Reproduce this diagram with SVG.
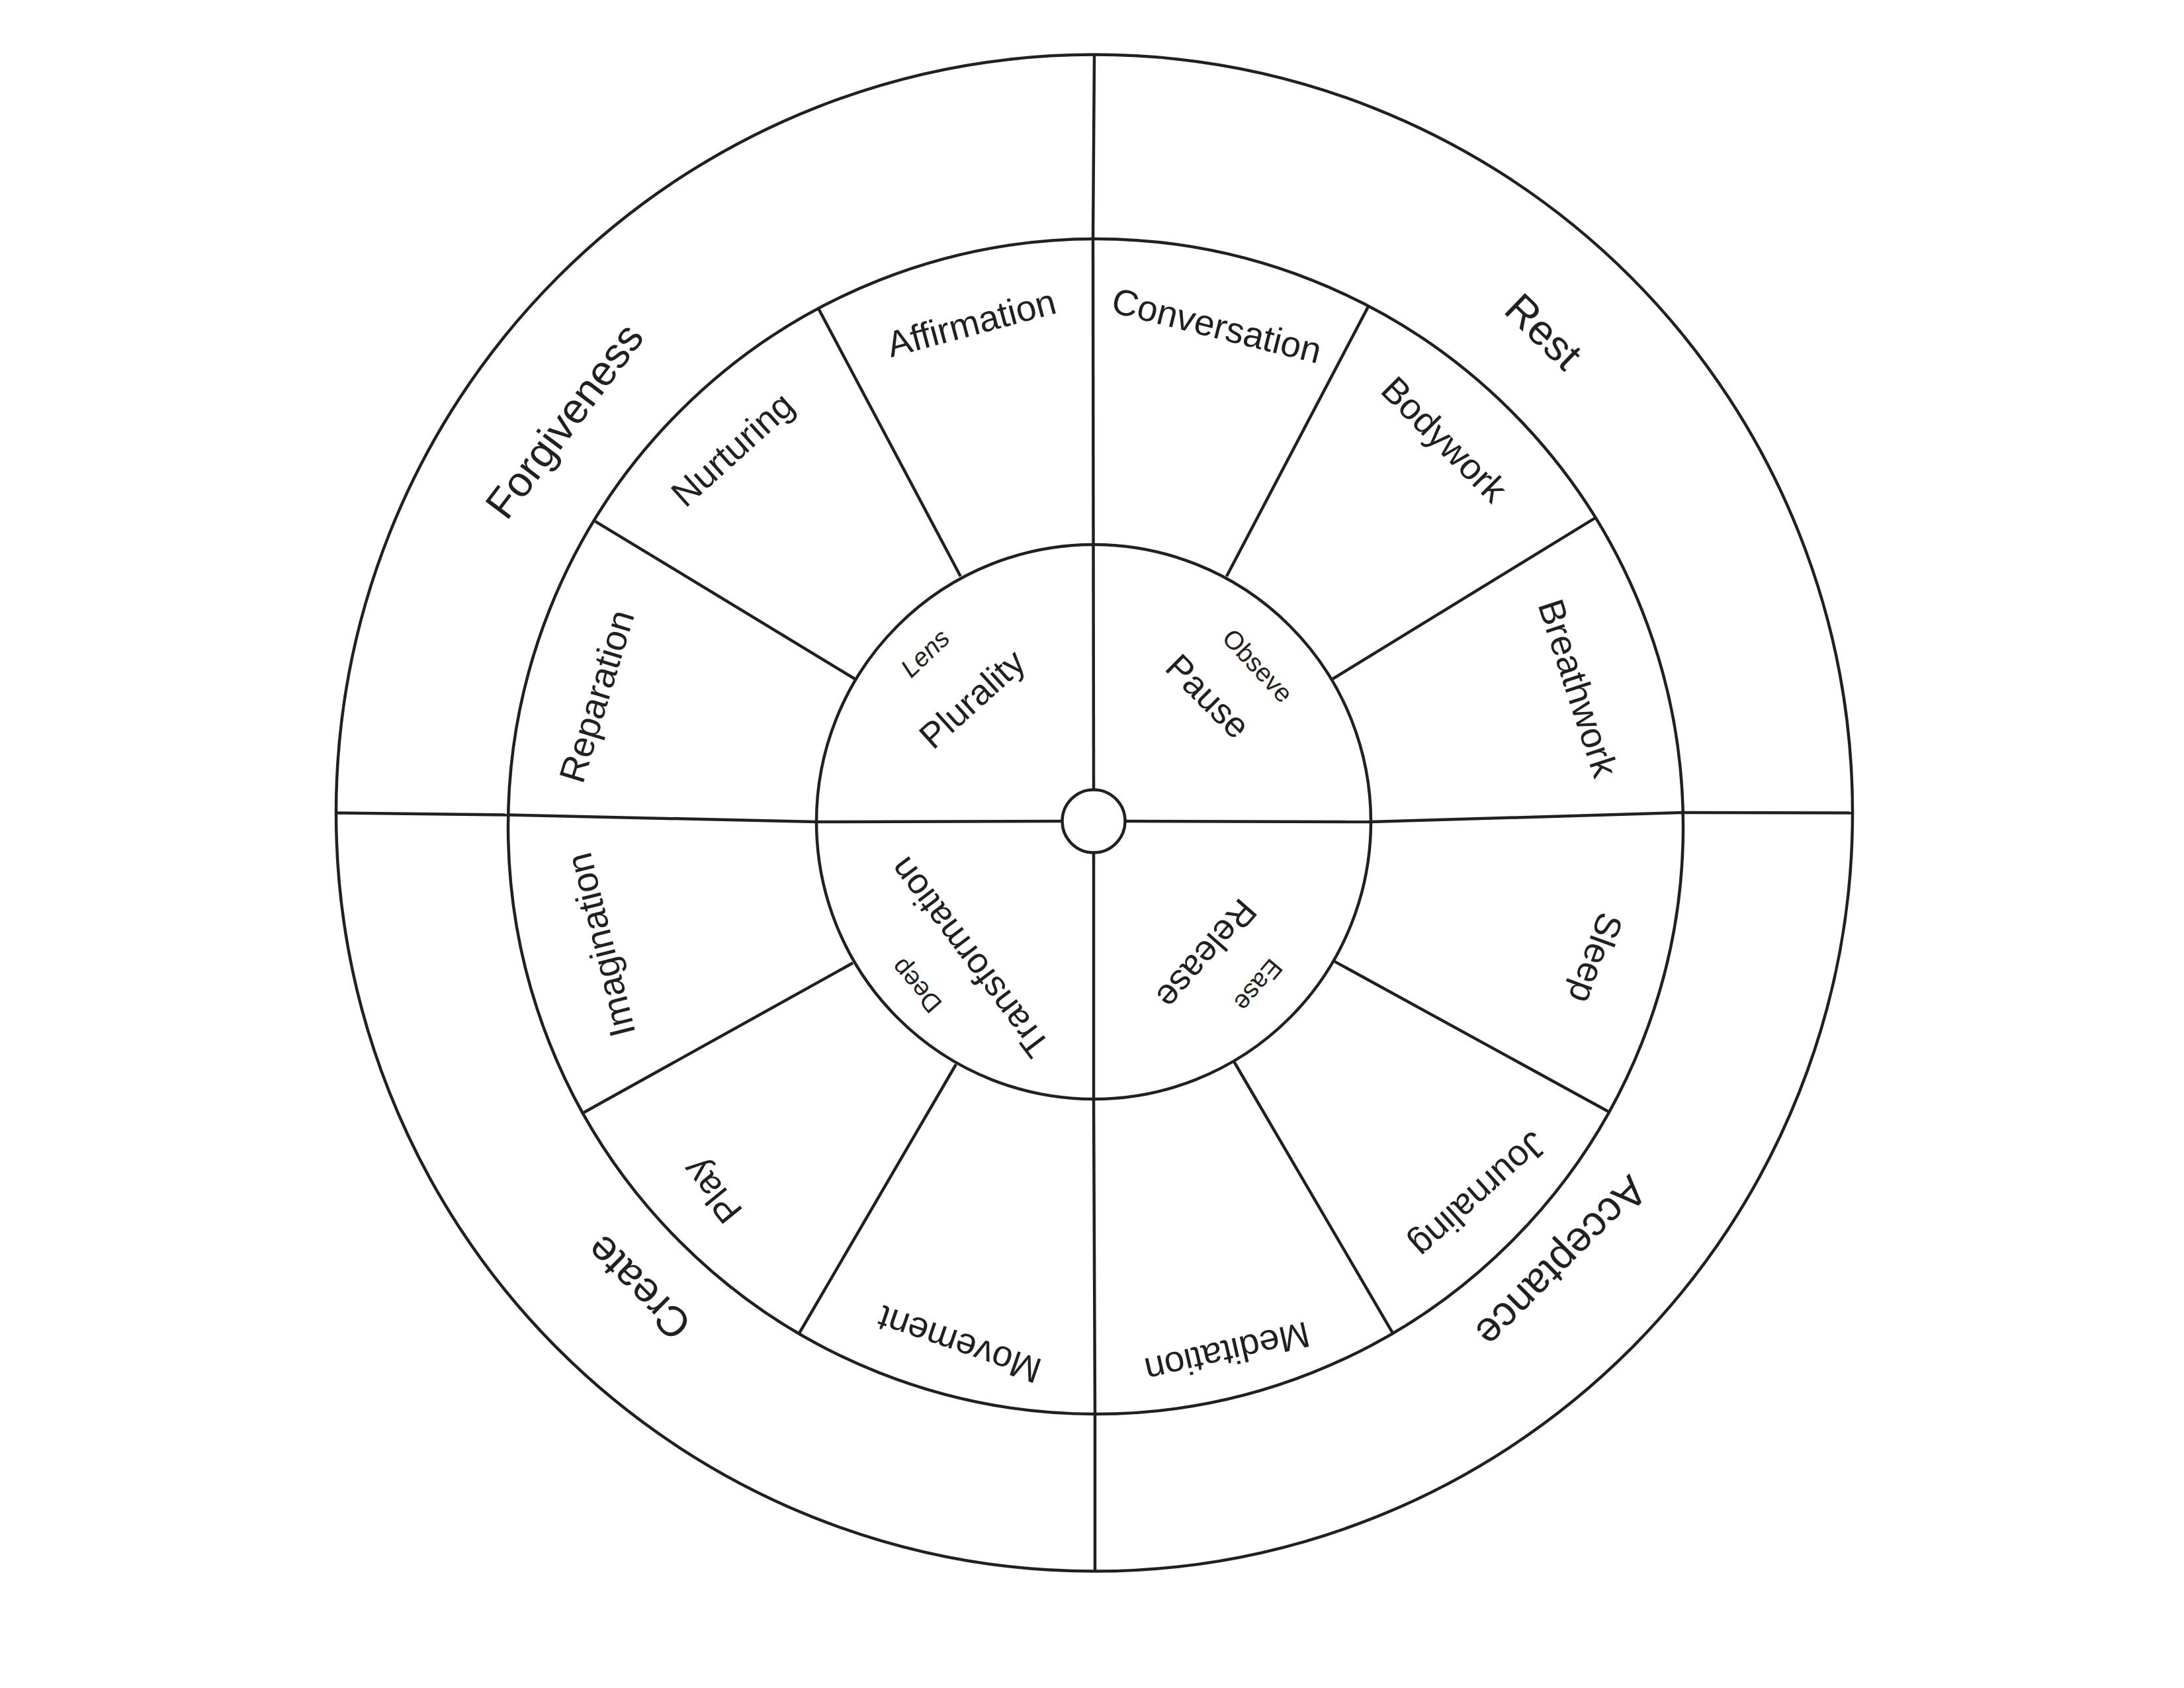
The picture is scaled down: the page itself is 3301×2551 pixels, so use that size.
<svg xmlns="http://www.w3.org/2000/svg" width="3301" height="2551" viewBox="0 0 3301 2551">
<style>
.ln{fill:none;stroke:#231f20;stroke-width:4.5;stroke-linecap:butt}
.c{fill:#fff;stroke:#231f20;stroke-width:4.5}
text{font-family:"Liberation Sans",Arial,Helvetica,sans-serif;fill:#231f20;text-anchor:middle;dominant-baseline:central}
.o{font-size:64px}
.m{font-size:55px}
.i{font-size:54px}
.s{font-size:39px}
.it{font-style:italic}
</style>
<rect width="3301" height="2551" fill="#fff"/>
<g id="rings">
<circle class="c" cx="1654" cy="1228.6" r="1146"/>
<circle class="c" cx="1656" cy="1249" r="888"/>
<circle class="c" cx="1653" cy="1242" r="419"/>
</g>
<g id="dividers">
<line class="ln" x1="1654" y1="82.6" x2="1652" y2="361"/>
<line class="ln" x1="1655" y1="2137" x2="1655" y2="2375"/>
<line class="ln" x1="508" y1="1228.5" x2="768.5" y2="1231.5"/>
<line class="ln" x1="2544" y1="1228" x2="2800" y2="1228.5"/>
<line class="ln" x1="1652" y1="361" x2="1652.5" y2="823"/>
<line class="ln" x1="1653" y1="1661" x2="1655" y2="2137"/>
<line class="ln" x1="768.5" y1="1231.5" x2="1234" y2="1242"/>
<line class="ln" x1="2072" y1="1242" x2="2544" y2="1228"/>
<line class="ln" x1="1237.6" y1="467.4" x2="1451.8" y2="871"/>
<line class="ln" x1="899.6" y1="787.8" x2="1292" y2="1026"/>
<line class="ln" x1="2068" y1="463.4" x2="1853.9" y2="871"/>
<line class="ln" x1="2410.4" y1="783.2" x2="2014.3" y2="1026"/>
<line class="ln" x1="882.4" y1="1681.2" x2="1289" y2="1455.3"/>
<line class="ln" x1="1208.2" y1="2014.5" x2="1445" y2="1608.5"/>
<line class="ln" x1="2431.2" y1="1680" x2="2016" y2="1452.4"/>
<line class="ln" x1="2104.3" y1="2013.3" x2="1865.5" y2="1605"/>
<line class="ln" x1="1234" y1="1242" x2="1605.5" y2="1241"/>
<line class="ln" x1="1700.5" y1="1241" x2="2072" y2="1242"/>
<line class="ln" x1="1652.5" y1="823" x2="1653" y2="1193.5"/>
<line class="ln" x1="1653" y1="1288.5" x2="1653" y2="1661"/>
</g>
<g id="hub"><circle class="c" cx="1653" cy="1241" r="47.5"/></g>
<g id="outer-labels">
<text class="o" transform="translate(853,636) rotate(-53)">Forgiveness</text>
<text class="o" transform="translate(2333,501) rotate(44)">Rest</text>
<text class="o" transform="translate(965,1946) rotate(-135)">Create</text>
<text class="o" transform="translate(2360,1907) rotate(135)">Acceptance</text>
</g>
<g id="middle-labels">
<text class="m" transform="translate(1468,488) rotate(-15)">Affirmation</text>
<text class="m" transform="translate(1839,492) rotate(14)">Conversation</text>
<text class="m" transform="translate(1107,679) rotate(-42)">Nurturing</text>
<text class="m" transform="translate(2183,664) rotate(45)">Bodywork</text>
<text class="m" transform="translate(902,1052) rotate(-73)">Reparation</text>
<text class="m" transform="translate(2385,1040) rotate(72)">Breathwork</text>
<text class="m" transform="translate(908,1428) rotate(-104)">Imagination</text>
<text class="m" transform="translate(2412,1448) rotate(110)">Sleep</text>
<text class="m" transform="translate(1076,1800) rotate(-129)">Play</text>
<text class="m" transform="translate(2235,1806) rotate(138)">Journaling</text>
<text class="m" transform="translate(1450,2032) rotate(-161)">Movement</text>
<text class="m" transform="translate(1855,2044) rotate(167)">Meditation</text>
</g>
<g id="inner-labels">
<text class="i" transform="translate(1469,1056) rotate(-42)">Plurality</text>
<text class="s it" transform="translate(1398,987) rotate(-44)">Lens</text>
<text class="i" transform="translate(1826,1052) rotate(45)">Pause</text>
<text class="s" transform="translate(1901,1006) rotate(47)">Obseve</text>
<text class="i" transform="translate(1465,1447) rotate(-127)">Transformation</text>
<text class="s" transform="translate(1385,1490) rotate(-131)">Deep</text>
<text class="i" transform="translate(1824,1442) rotate(131)">Release</text>
<text class="s" transform="translate(1902,1489) rotate(130)">Ease</text>
</g>
</svg>
